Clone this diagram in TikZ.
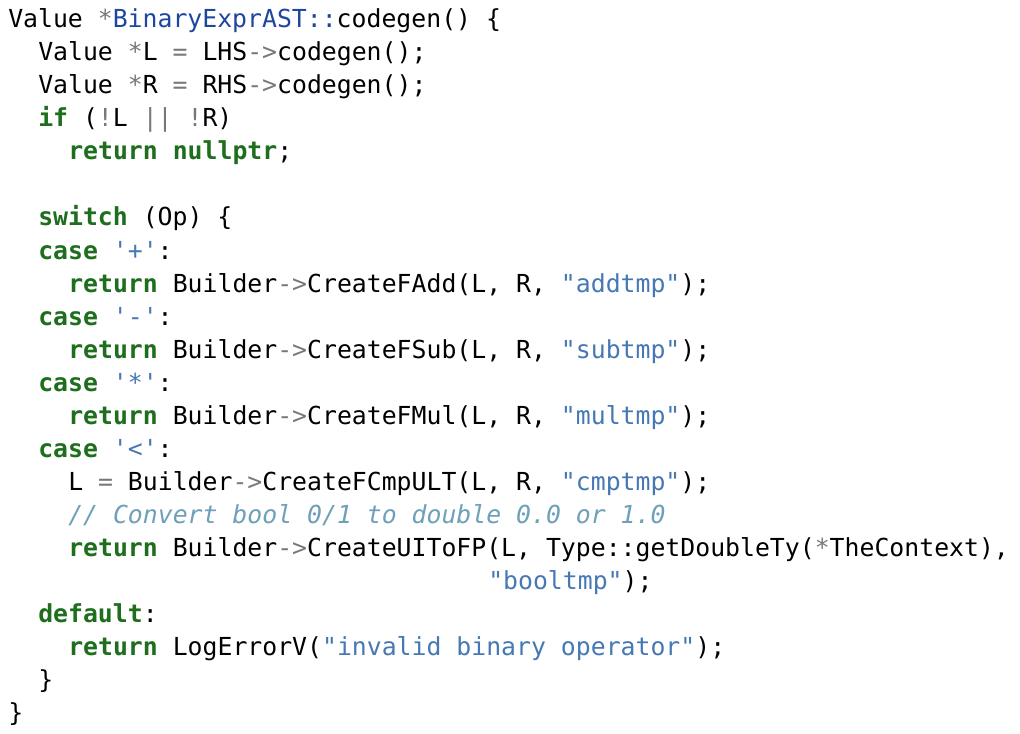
\documentclass[tikz,border=0pt]{standalone}
\usepackage{fontspec}
\newfontfamily\codefont{DejaVu Sans Mono}
\usetikzlibrary{positioning}
\definecolor{kwgreen}{RGB}{30,110,30}
\definecolor{strblue}{RGB}{70,120,180}
\definecolor{tyblue}{RGB}{30,70,160}
\definecolor{opgray}{RGB}{120,120,120}
\definecolor{cmblue}{RGB}{110,160,185}
\newcommand{\kw}[1]{\textcolor{kwgreen}{\bfseries #1}}
\newcommand{\strg}[1]{\textcolor{strblue}{#1}}
\newcommand{\tyn}[1]{\textcolor{tyblue}{#1}}
\newcommand{\opg}[1]{\textcolor{opgray}{#1}}
\newcommand{\cmt}[1]{\textcolor{cmblue}{\itshape #1}}
\newcommand{\col}[1]{\fpeval{8+15*#1}}
\begin{document}
\begin{tikzpicture}[x=0.75pt,y=-0.75pt]
\tikzset{codeline/.style={anchor=base west,inner sep=0pt,font=\codefont\fontsize{18.6}{22}\selectfont}}
\useasboundingbox (0,0) rectangle (1020,734);
\fill[white] (0,0) rectangle (1020,734);

\node[codeline] (l1) at (\col{0},28) {Value \opg{*}\tyn{BinaryExprAST::}codegen() \{};
\node[codeline] (l2) at (\col{2},61) {Value \opg{*}L \opg{=} LHS\opg{->}codegen();};
\node[codeline] (l3) at (\col{2},94) {Value \opg{*}R \opg{=} RHS\opg{->}codegen();};
\node[codeline] (l4) at (\col{2},127) {\kw{if} (\opg{!}L \opg{||} \opg{!}R)};
\node[codeline] (l5) at (\col{4},160) {\kw{return} \kw{nullptr};};

\node[codeline] (l7) at (\col{2},226) {\kw{switch} (Op) \{};
\node[codeline] (l8) at (\col{2},259) {\kw{case} \strg{'+'}:};
\node[codeline] (l9) at (\col{4},292) {\kw{return} Builder\opg{->}CreateFAdd(L, R, \strg{"addtmp"});};
\node[codeline] (l10) at (\col{2},325) {\kw{case} \strg{'-'}:};
\node[codeline] (l11) at (\col{4},358) {\kw{return} Builder\opg{->}CreateFSub(L, R, \strg{"subtmp"});};
\node[codeline] (l12) at (\col{2},391) {\kw{case} \strg{'*'}:};
\node[codeline] (l13) at (\col{4},424) {\kw{return} Builder\opg{->}CreateFMul(L, R, \strg{"multmp"});};
\node[codeline] (l14) at (\col{2},457) {\kw{case} \strg{'<'}:};
\node[codeline] (l15) at (\col{4},490) {L \opg{=} Builder\opg{->}CreateFCmpULT(L, R, \strg{"cmptmp"});};
\node[codeline] (l16) at (\col{4},523) {\cmt{// Convert bool 0/1 to double 0.0 or 1.0}};
\node[codeline] (l17) at (\col{4},556) {\kw{return} Builder\opg{->}CreateUIToFP(L, Type::getDoubleTy(\opg{*}TheContext),};
\node[codeline] (l18) at (\col{32},589) {\strg{"booltmp"});};
\node[codeline] (l19) at (\col{2},622) {\kw{default}:};
\node[codeline] (l20) at (\col{4},655) {\kw{return} LogErrorV(\strg{"invalid binary operator"});};
\node[codeline] (l21) at (\col{2},688) {\}};
\node[codeline] (l22) at (\col{0},721) {\}};
\end{tikzpicture}
\end{document}
